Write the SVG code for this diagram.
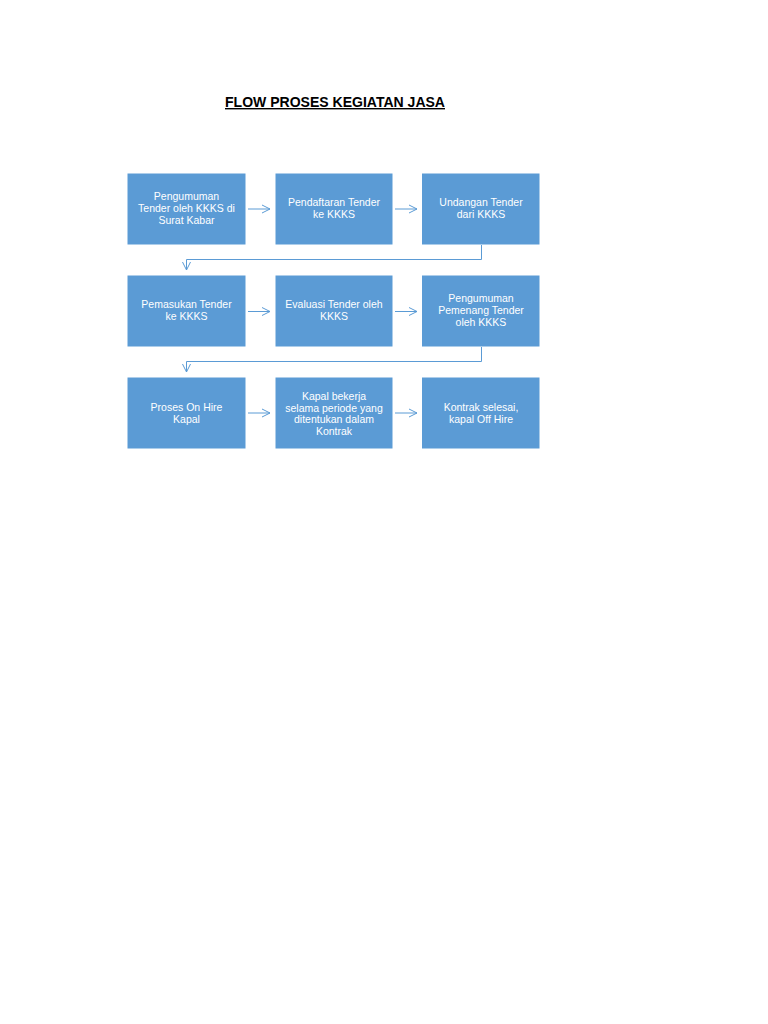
<svg xmlns="http://www.w3.org/2000/svg" width="768" height="1024" viewBox="0 0 768 1024">
<defs>
<style>
.box{fill:#5B9BD5;stroke:#ffffff;stroke-width:1}
.t{font-family:"Liberation Sans",Arial,sans-serif;font-size:10.5px;fill:#ffffff;text-anchor:middle}
.c{fill:none;stroke:#5B9BD5;stroke-width:1}
.title{font-family:"Liberation Sans",Arial,sans-serif;font-size:14px;font-weight:bold;fill:#000000;text-anchor:middle;text-decoration:underline}
</style>
<marker id="ah" markerWidth="10" markerHeight="10" refX="9" refY="5" orient="auto" markerUnits="userSpaceOnUse">
<path d="M1,1 L9,5 L1,9" fill="none" stroke="#5B9BD5" stroke-width="1"/>
</marker>
</defs>
<rect width="768" height="1024" fill="#ffffff"/>
<text class="title" x="335" y="107" textLength="220" lengthAdjust="spacingAndGlyphs">FLOW PROSES KEGIATAN JASA</text>

<g id="n1"><rect class="box" x="127" y="173" width="119" height="72"/>
<text class="t" x="186.5" y="200">Pengumuman</text><text class="t" x="186.5" y="212">Tender oleh KKKS di</text><text class="t" x="186.5" y="224">Surat Kabar</text></g>
<g id="n2"><rect class="box" x="275" y="173" width="118" height="72"/>
<text class="t" x="334" y="206">Pendaftaran Tender</text><text class="t" x="334" y="218">ke KKKS</text></g>
<g id="n3"><rect class="box" x="421.5" y="173" width="118.5" height="72"/>
<text class="t" x="481" y="206">Undangan Tender</text><text class="t" x="481" y="218">dari KKKS</text></g>

<g id="n4"><rect class="box" x="127" y="275" width="119" height="72"/>
<text class="t" x="186.5" y="308">Pemasukan Tender</text><text class="t" x="186.5" y="320">ke KKKS</text></g>
<g id="n5"><rect class="box" x="275" y="275" width="118" height="72"/>
<text class="t" x="334" y="308">Evaluasi Tender oleh</text><text class="t" x="334" y="320">KKKS</text></g>
<g id="n6"><rect class="box" x="421.5" y="275" width="118.5" height="72"/>
<text class="t" x="481" y="302">Pengumuman</text><text class="t" x="481" y="314">Pemenang Tender</text><text class="t" x="481" y="326">oleh KKKS</text></g>

<g id="n7"><rect class="box" x="127" y="377" width="119" height="72"/>
<text class="t" x="186.5" y="411">Proses On Hire</text><text class="t" x="186.5" y="423">Kapal</text></g>
<g id="n8"><rect class="box" x="275" y="377" width="118" height="72"/>
<text class="t" x="334" y="400">Kapal bekerja</text><text class="t" x="334" y="411.5">selama periode yang</text><text class="t" x="334" y="423">ditentukan dalam</text><text class="t" x="334" y="434.5">Kontrak</text></g>
<g id="n9"><rect class="box" x="421.5" y="377" width="118.5" height="72"/>
<text class="t" x="481" y="411">Kontrak selesai,</text><text class="t" x="481" y="423">kapal Off Hire</text></g>

<g id="connectors">
<path class="c" d="M248,209 L270,209" marker-end="url(#ah)"/>
<path class="c" d="M395,209 L417,209" marker-end="url(#ah)"/>
<path class="c" d="M481.5,245 L481.5,259.5 L186.5,259.5 L186.5,270" marker-end="url(#ah)"/>
<path class="c" d="M248,311.5 L270,311.5" marker-end="url(#ah)"/>
<path class="c" d="M395,311.5 L417,311.5" marker-end="url(#ah)"/>
<path class="c" d="M481.5,347 L481.5,361.5 L186.5,361.5 L186.5,372" marker-end="url(#ah)"/>
<path class="c" d="M248,413 L270,413" marker-end="url(#ah)"/>
<path class="c" d="M395,413 L417,413" marker-end="url(#ah)"/>
</g>
</svg>
